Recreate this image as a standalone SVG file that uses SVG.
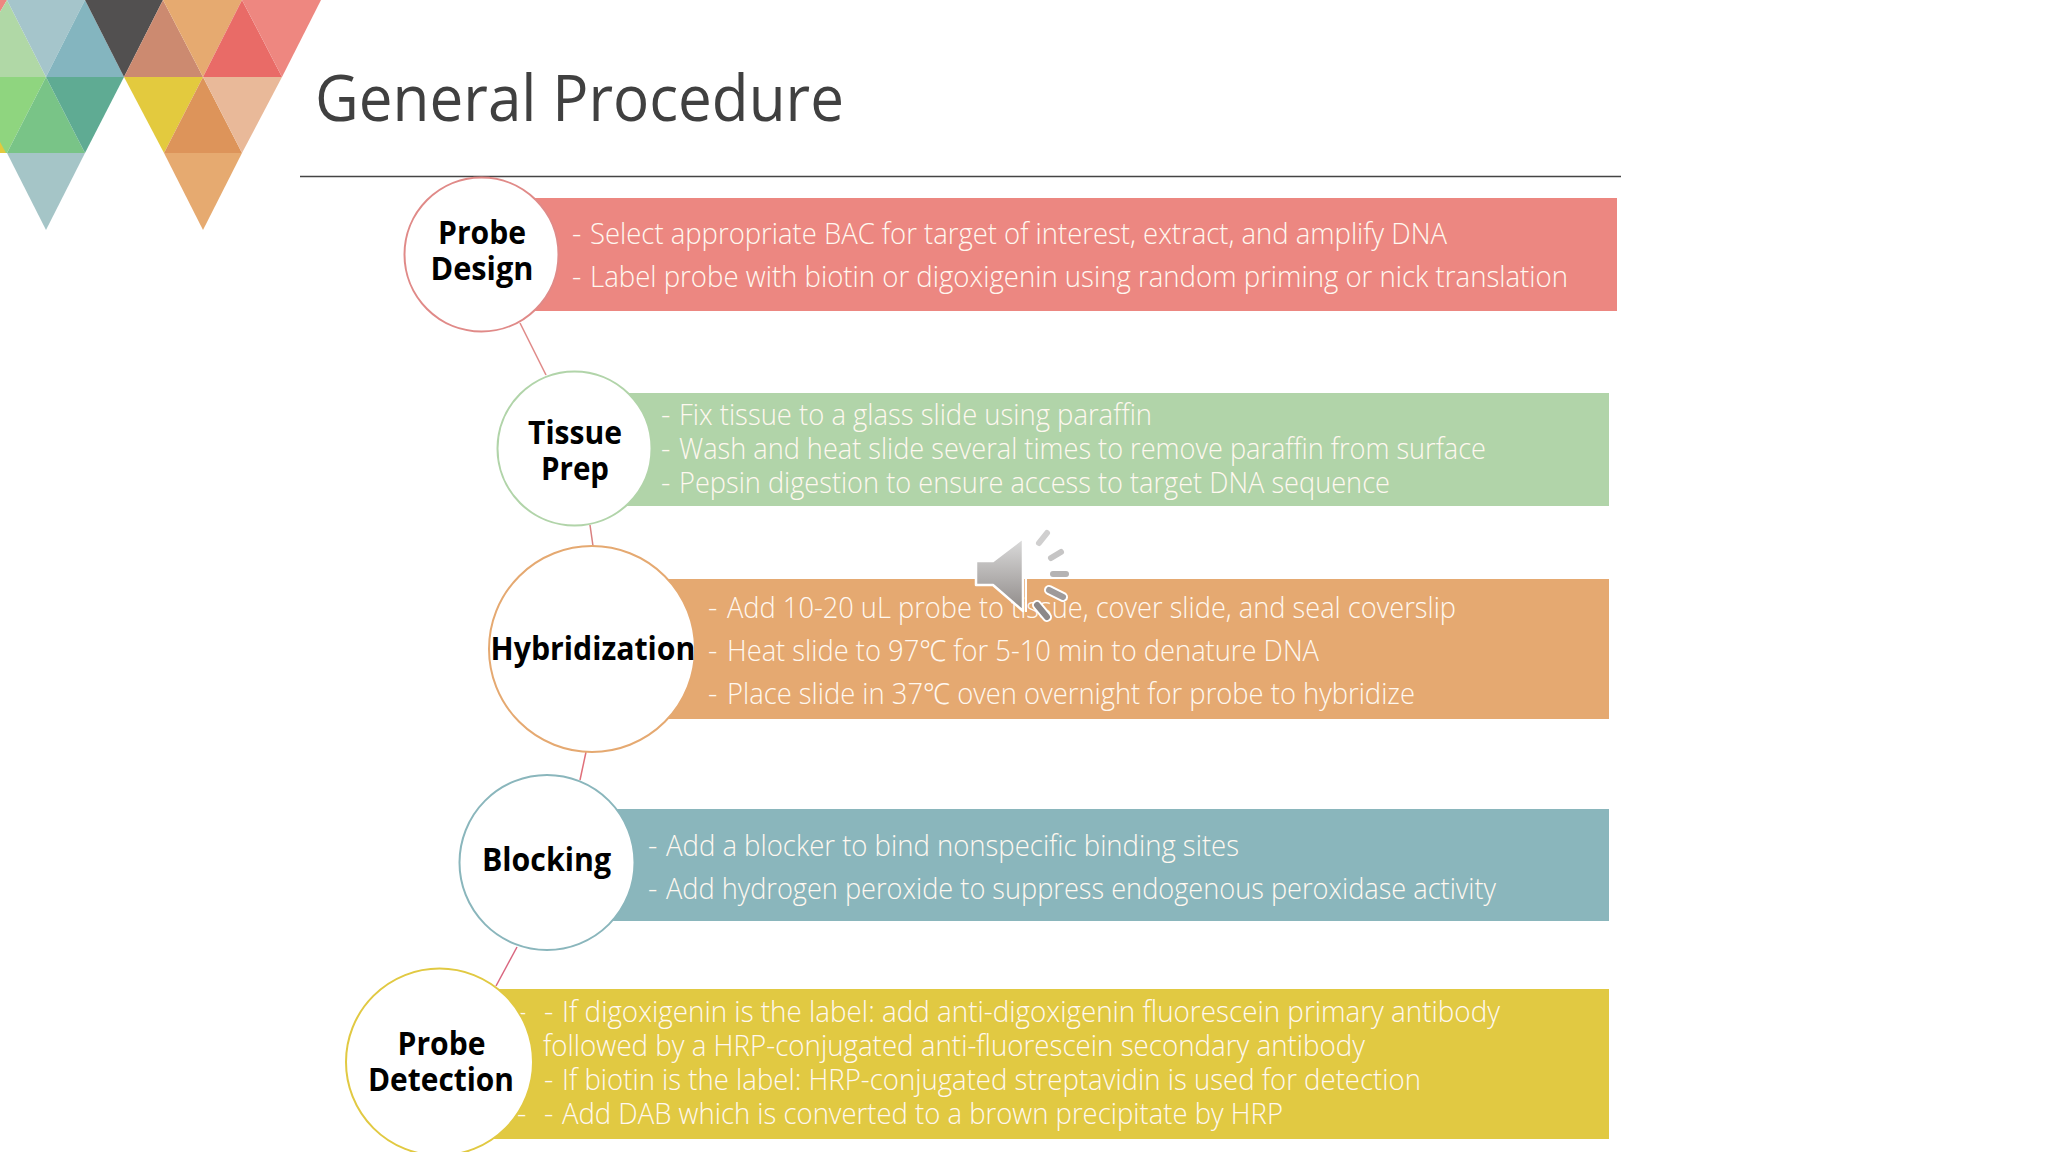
<svg xmlns="http://www.w3.org/2000/svg" width="2048" height="1152" viewBox="0 0 2048 1152">
<style>
.t{font-family:"Open Sans","Noto Sans",sans-serif;font-size:29px;font-weight:300;fill:#fff8f0;}
.n{font-family:"Open Sans","Noto Sans",sans-serif;font-size:32px;font-weight:700;fill:#000;text-anchor:middle;}
.c{fill:#fff;stroke-width:2;}
.l{fill:none;stroke-width:1.5;}
</style>
<defs><linearGradient id="sg" x1="0" y1="0" x2="0" y2="1"><stop offset="0" stop-color="#dcdcdc"/><stop offset="1" stop-color="#8f8a88"/></linearGradient></defs>
<rect width="2048" height="1152" fill="#fff"/>
<g id="triangles">
<polygon points="0,0 7,0 0,12" fill="#ee8780"/>
<polygon points="7,0 46,77 0,77 0,12" fill="#b0d8a6"/>
<polygon points="7,0 85,0 46,77" fill="#a5c5cb"/>
<polygon points="85,0 46,77 124,77" fill="#84b5bf"/>
<polygon points="85,0 163,0 124,77" fill="#525050"/>
<polygon points="163,0 124,77 203,77" fill="#cc8a70"/>
<polygon points="163,0 242,0 203,77" fill="#e6aa70"/>
<polygon points="242,0 203,77 282,77" fill="#e96b67"/>
<polygon points="242,0 321,0 282,77" fill="#ee8780"/>
<polygon points="0,77 46,77 7,153 0,153" fill="#8fd57f"/>
<polygon points="0,153 6,153 0,142" fill="#e3ca3e"/>
<polygon points="46,77 7,153 85,153" fill="#79c487"/>
<polygon points="46,77 124,77 85,153" fill="#5fab93"/>
<polygon points="124,77 203,77 164,153" fill="#e3ca3e"/>
<polygon points="203,77 164,153 242,153" fill="#dd945a"/>
<polygon points="203,77 282,77 242,153" fill="#e9b999"/>
<polygon points="7,153 85,153 46,230" fill="#a5c5c7"/>
<polygon points="164,153 242,153 203,230" fill="#e6aa70"/>
</g>
<text x="315" y="121" font-family="Open Sans, Noto Sans, sans-serif" font-size="64" fill="#404040" textLength="529" lengthAdjust="spacingAndGlyphs">General Procedure</text>
<line x1="300" y1="176.5" x2="1621" y2="176.5" stroke="#444" stroke-width="1.5"/>
<g id="connectors">
<line class="l" x1="520" y1="323" x2="546" y2="375" stroke="#e08a88"/>
<line class="l" x1="590" y1="525" x2="593" y2="546" stroke="#d9807f"/>
<line class="l" x1="586" y1="752" x2="580" y2="780" stroke="#e0707a"/>
<line class="l" x1="517" y1="947" x2="496" y2="986" stroke="#d9667f"/>
</g>
<g id="bar1"><rect x="530" y="198" width="1087" height="113" fill="#ec8781"/>
<text class="t" x="572" y="244">-</text><text class="t" x="590" y="244" textLength="857" lengthAdjust="spacingAndGlyphs">Select appropriate BAC for target of interest, extract, and amplify DNA</text>
<text class="t" x="572" y="287">-</text><text class="t" x="590" y="287" textLength="978" lengthAdjust="spacingAndGlyphs">Label probe with biotin or digoxigenin using random priming or nick translation</text></g>
<g id="bar2"><rect x="620" y="393" width="989" height="113" fill="#b1d4a9"/>
<text class="t" x="661" y="425">-</text><text class="t" x="679" y="425" textLength="473" lengthAdjust="spacingAndGlyphs">Fix tissue to a glass slide using paraffin</text>
<text class="t" x="661" y="459">-</text><text class="t" x="679" y="459" textLength="807" lengthAdjust="spacingAndGlyphs">Wash and heat slide several times to remove paraffin from surface</text>
<text class="t" x="661" y="493">-</text><text class="t" x="679" y="493" textLength="711" lengthAdjust="spacingAndGlyphs">Pepsin digestion to ensure access to target DNA sequence</text></g>
<g id="bar3"><rect x="660" y="579" width="949" height="140" fill="#e5a971"/>
<text class="t" x="708" y="618">-</text><text class="t" x="727" y="618" textLength="729" lengthAdjust="spacingAndGlyphs">Add 10-20 uL probe to tissue, cover slide, and seal coverslip</text>
<text class="t" x="708" y="661">-</text><text class="t" x="727" y="661" textLength="592" lengthAdjust="spacingAndGlyphs">Heat slide to 97℃ for 5-10 min to denature DNA</text>
<text class="t" x="708" y="704">-</text><text class="t" x="727" y="704" textLength="688" lengthAdjust="spacingAndGlyphs">Place slide in 37℃ oven overnight for probe to hybridize</text></g>
<g id="bar4"><rect x="610" y="809" width="999" height="112" fill="#8ab6bc"/>
<text class="t" x="648" y="856">-</text><text class="t" x="666" y="856" textLength="573" lengthAdjust="spacingAndGlyphs">Add a blocker to bind nonspecific binding sites</text>
<text class="t" x="648" y="899">-</text><text class="t" x="666" y="899" textLength="830" lengthAdjust="spacingAndGlyphs">Add hydrogen peroxide to suppress endogenous peroxidase activity</text></g>
<g id="bar5"><rect x="490" y="989" width="1119" height="150" fill="#e1c942"/>
<text class="t" x="517" y="1022">-</text><text class="t" x="517" y="1124">-</text>
<text class="t" x="544" y="1022">-</text><text class="t" x="562" y="1022" textLength="938" lengthAdjust="spacingAndGlyphs">If digoxigenin is the label: add anti-digoxigenin fluorescein primary antibody</text>
<text class="t" x="543" y="1056" textLength="822" lengthAdjust="spacingAndGlyphs">followed by a HRP-conjugated anti-fluorescein secondary antibody</text>
<text class="t" x="544" y="1090">-</text><text class="t" x="562" y="1090" textLength="859" lengthAdjust="spacingAndGlyphs">If biotin is the label: HRP-conjugated streptavidin is used for detection</text>
<text class="t" x="544" y="1124">-</text><text class="t" x="562" y="1124" textLength="721" lengthAdjust="spacingAndGlyphs">Add DAB which is converted to a brown precipitate by HRP</text></g>
<g id="node1"><circle class="c" cx="481.5" cy="254.5" r="77" stroke="#e08a88"/><text class="n" x="482" y="244" textLength="88" lengthAdjust="spacingAndGlyphs">Probe</text><text class="n" x="482" y="280" textLength="103" lengthAdjust="spacingAndGlyphs">Design</text></g>
<g id="node2"><circle class="c" cx="574.5" cy="448.5" r="77" stroke="#b1d4a9"/><text class="n" x="575" y="444" textLength="94" lengthAdjust="spacingAndGlyphs">Tissue</text><text class="n" x="575" y="480" textLength="68" lengthAdjust="spacingAndGlyphs">Prep</text></g>
<g id="node3"><circle class="c" cx="592" cy="649" r="103" stroke="#e5a971"/><text class="n" x="593" y="660" textLength="205" lengthAdjust="spacingAndGlyphs">Hybridization</text></g>
<g id="node4"><circle class="c" cx="547" cy="862.5" r="87.5" stroke="#8ab6bc"/><text class="n" x="546.5" y="871" textLength="129" lengthAdjust="spacingAndGlyphs">Blocking</text></g>
<g id="node5"><circle class="c" cx="439.5" cy="1062" r="93.5" stroke="#e1c942"/><text class="n" x="441.5" y="1055" textLength="88" lengthAdjust="spacingAndGlyphs">Probe</text><text class="n" x="441" y="1091" textLength="146" lengthAdjust="spacingAndGlyphs">Detection</text></g>
<g id="speaker">
<path d="M976 561H993L1023 538V611L993 585H976Z" fill="url(#sg)" stroke="#fff" stroke-width="2.5" stroke-linejoin="round"/>
<line x1="1026" y1="540" x2="1026" y2="612" stroke="#fff" stroke-width="2"/>
<g stroke="#fff" stroke-width="10" stroke-linecap="round"><line x1="1039" y1="543" x2="1047" y2="533"/><line x1="1051" y1="558" x2="1061" y2="552"/><line x1="1053" y1="574" x2="1066" y2="574"/><line x1="1049" y1="590" x2="1063" y2="597"/><line x1="1037" y1="605" x2="1047" y2="617"/></g>
<g stroke-width="6" stroke-linecap="round"><line x1="1039" y1="543" x2="1047" y2="533" stroke="#d0cfcf"/><line x1="1051" y1="558" x2="1061" y2="552" stroke="#c6c5c5"/><line x1="1053" y1="574" x2="1066" y2="574" stroke="#b5b3b3"/><line x1="1049" y1="590" x2="1063" y2="597" stroke="#9e9a9a"/><line x1="1037" y1="605" x2="1047" y2="617" stroke="#8c8888"/></g>
</g>
</svg>
